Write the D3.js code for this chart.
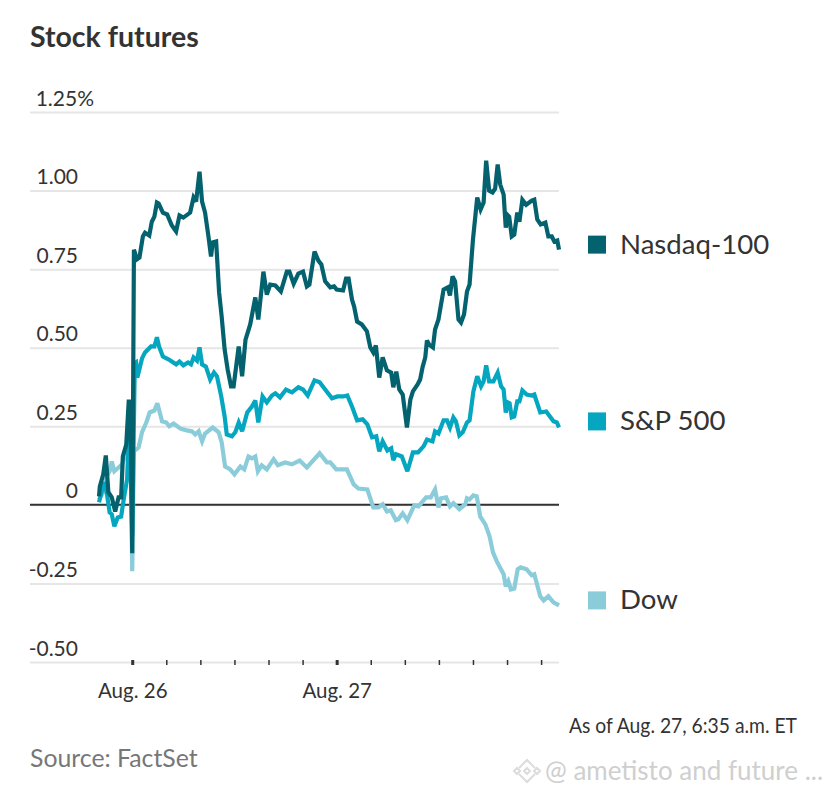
<!DOCTYPE html>
<html>
<head>
<meta charset="utf-8">
<script src="https://cdn.jsdelivr.net/npm/d3@7"></script>
<style>
  html, body { margin: 0; padding: 0; background: #fff; }
  svg { display: block; }
  text { font-family: Lato, "Open Sans", sans-serif; }
</style>
</head>
<body>
<svg id="chart" width="829" height="797"></svg>
<script>
// [hours since the Aug. 26 tick, % change]
var nasdaq = [[-3.9,.027],[-3.8,.059],[-3.4,.097],[-3.1,.157],[-2.8,.040],[-2.4,.024],[-2.0,-.021],[-1.6,.024],[-1.3,.024],[-1.1,.154],[-.7,.192],[-.4,.335],[-.15,.199],[0,-.154],[.2,.812],[.55,.781],[.85,.787],[1.25,.854],[1.5,.866],[2.0,.857],[2.3,.901],[2.6,.917],[2.9,.962],[3.1,.959],[3.6,.930],[4.1,.924],[4.65,.889],[5.15,.870],[5.55,.921],[6.0,.914],[6.8,.930],[7.2,.978],[7.5,.965],[7.9,1.060],[8.2,.965],[8.55,.930],[8.95,.854],[9.25,.790],[9.45,.835],[9.85,.838],[10.2,.676],[10.5,.599],[10.85,.494],[11.2,.431],[11.6,.377],[11.9,.377],[12.2,.440],[12.5,.504],[12.9,.409],[13.3,.526],[13.85,.574],[14.45,.660],[14.8,.590],[15.4,.742],[15.8,.669],[16.2,.701],[16.8,.698],[17.45,.679],[18.15,.742],[18.45,.742],[18.95,.704],[19.5,.736],[20.05,.742],[20.5,.695],[20.8,.701],[21.4,.806],[21.85,.777],[22.2,.765],[22.65,.711],[23.25,.692],[23.7,.695],[24.0,.685],[24.75,.682],[25.1,.720],[25.4,.720],[25.8,.653],[26.05,.631],[26.4,.583],[26.95,.574],[27.55,.552],[27.95,.501],[28.3,.485],[28.6,.507],[29.0,.405],[29.4,.469],[29.9,.428],[30.4,.421],[30.65,.374],[31.0,.424],[31.35,.367],[31.75,.351],[32.25,.246],[32.65,.335],[32.95,.361],[33.5,.383],[33.8,.399],[34.1,.440],[34.4,.469],[34.6,.523],[34.85,.510],[35.3,.501],[35.55,.558],[35.95,.590],[36.55,.685],[37.05,.692],[37.3,.666],[37.6,.727],[37.9,.711],[38.3,.590],[38.6,.580],[38.95,.606],[39.3,.679],[39.6,.701],[40.0,.844],[40.5,.978],[40.9,.940],[41.25,.962],[41.55,1.095],[41.9,1.000],[42.3,.994],[42.6,1.006],[42.9,1.083],[43.2,1.019],[43.6,.987],[43.85,.882],[44.1,.921],[44.25,.917],[44.55,.854],[44.85,.860],[45.2,.930],[45.45,.901],[45.8,.971],[46.25,.955],[46.9,.968],[47.2,.971],[47.55,.908],[47.95,.892],[48.5,.898],[48.85,.854],[49.25,.854],[49.55,.838],[49.9,.841],[50.1,.812]];

var sp500 = [[-3.9,.008],[-3.3,.072],[-3.0,.040],[-2.65,-.024],[-2.4,-.030],[-2.1,-.068],[-1.7,-.040],[-1.3,-.037],[-1.0,.017],[-.6,.081],[-.3,.281],[-.15,.10],[0,-.10],[.3,.45],[.45,.453],[.6,.405],[1.15,.466],[1.5,.485],[2.2,.504],[2.6,.504],[2.9,.533],[3.15,.504],[3.6,.472],[4.25,.463],[5.15,.447],[5.55,.456],[6.0,.444],[6.55,.453],[6.9,.447],[7.2,.469],[7.6,.459],[7.9,.501],[8.2,.447],[8.65,.440],[9.15,.399],[9.6,.421],[9.95,.409],[10.45,.345],[10.85,.281],[11.1,.224],[11.7,.218],[12.1,.231],[12.5,.262],[12.9,.234],[13.5,.294],[14.05,.313],[14.45,.332],[14.8,.262],[15.3,.345],[15.8,.326],[16.4,.348],[16.8,.355],[17.35,.342],[18.05,.367],[18.75,.358],[19.5,.374],[20.05,.367],[20.6,.348],[21.4,.396],[22.0,.390],[22.65,.367],[23.45,.339],[24.1,.345],[24.8,.345],[25.25,.348],[25.8,.313],[26.4,.269],[27.05,.272],[27.6,.256],[28.15,.215],[28.65,.218],[29.0,.170],[29.4,.202],[29.95,.173],[30.4,.180],[30.65,.142],[30.95,.161],[31.65,.154],[32.3,.107],[32.95,.167],[33.55,.167],[34.2,.186],[34.6,.208],[35.25,.202],[35.55,.234],[35.95,.227],[36.55,.269],[36.95,.269],[37.3,.246],[37.7,.278],[38.0,.266],[38.4,.221],[38.8,.231],[39.3,.262],[39.6,.269],[40.05,.361],[40.5,.409],[40.95,.377],[41.25,.393],[41.55,.444],[41.9,.393],[42.4,.393],[42.9,.421],[43.3,.377],[43.6,.367],[43.85,.294],[44.1,.326],[44.3,.323],[44.55,.278],[44.85,.281],[45.2,.329],[45.45,.329],[45.8,.364],[46.3,.351],[46.9,.348],[47.2,.351],[47.9,.294],[48.6,.297],[49.45,.266],[49.85,.262],[50.1,.246]];

var dow = [[-3.9,.017],[-3.4,.040],[-3.0,.091],[-2.65,.107],[-2.4,.138],[-2.1,.107],[-1.6,.119],[-1.2,.129],[-.6,.176],[-.2,.2],[0,-.211],[.2,.176],[.45,.176],[.75,.183],[1.15,.231],[1.65,.262],[2.05,.294],[2.6,.300],[2.95,.323],[3.5,.266],[4.0,.262],[4.35,.250],[4.85,.259],[5.65,.243],[6.4,.237],[7.0,.234],[7.4,.224],[7.8,.234],[8.2,.202],[8.55,.227],[9.45,.246],[10.15,.231],[10.5,.199],[10.9,.122],[11.5,.113],[12.0,.097],[12.7,.122],[13.15,.113],[13.65,.154],[14.05,.148],[14.45,.154],[14.75,.107],[15.2,.126],[15.8,.113],[16.6,.145],[17.1,.126],[17.95,.135],[18.75,.129],[19.65,.141],[20.5,.119],[22.0,.164],[22.85,.135],[23.25,.135],[23.95,.113],[25.2,.113],[26.0,.065],[26.55,.052],[27.6,.049],[28.3,-.008],[28.9,-.008],[29.4,.002],[29.9,-.021],[30.35,-.017],[30.95,-.049],[31.25,-.046],[31.75,-.027],[32.3,-.049],[33.1,-.002],[33.6,-.005],[34.5,.024],[35.05,.024],[35.55,.049],[35.95,-.008],[36.25,.021],[36.85,.024],[37.3,-.005],[37.7,.005],[38.4,-.014],[39.1,.002],[39.3,.021],[39.6,.017],[40.05,.030],[40.45,.027],[40.85,-.037],[41.45,-.062],[41.95,-.100],[42.35,-.151],[42.8,-.180],[43.6,-.221],[43.85,-.259],[44.15,-.243],[44.45,-.269],[44.85,-.266],[45.25,-.205],[45.6,-.199],[46.3,-.205],[46.9,-.224],[47.2,-.221],[47.9,-.291],[48.3,-.304],[48.85,-.291],[49.45,-.310],[50.1,-.320]];

var seriesNames = ["Dow", "S&P 500", "Nasdaq-100"];
var seriesColors = ["#8accd9", "#05a6bf", "#04626f"];
var seriesLegendValues = [-0.304, 0.2655, 0.828];

var yTicks = [-0.5, -0.25, 0, 0.25, 0.5, 0.75, 1, 1.25];
var yLabels = ["-0.50", "-0.25", "0", "0.25", "0.50", "0.75", "1.00", "1.25%"];
var xTicks = [0, 4, 8, 12, 16, 20, 24, 28, 32, 36, 40, 44, 48];
var xLabels = {0: "Aug. 26", 24: "Aug. 27"};

var svg = d3.select("#chart");

var x = d3.scaleLinear().domain([-3.9, 50.1]).range([99, 559]);
var y = d3.scaleLinear().domain([-0.5, 1.25]).range([662, 112]);

// gridlines + y labels
var yAxis = d3.axisLeft(y)
    .tickValues(yTicks)
    .tickSize(0)
    .tickPadding(0)
    .tickFormat(function (d, i) { return yLabels[i]; });

var yg = svg.append("g").call(yAxis);
yg.select(".domain").remove();
yg.selectAll("text")
    .attr("x", 78)
    .attr("y", -7)
    .attr("dy", 0)
    .attr("text-anchor", "end")
    .style("font-family", "Lato, sans-serif")
    .style("font-size", "21px")
    .style("fill", "#333");
// the % hangs out to the right of the number column
yg.selectAll("text").filter(function (d) { return d == 1.25; }).attr("x", 94);
yg.selectAll("line")
    .attr("x1", 30)
    .attr("x2", 559)
    .attr("stroke", "#e6e6e6")
    .attr("stroke-width", 2);

// x axis
var xAxis = d3.axisBottom(x)
    .tickValues(xTicks)
    .tickSize(0)
    .tickPadding(0)
    .tickFormat(function (d) { return xLabels[d] || ""; });

var xg = svg.append("g").attr("transform", "translate(0," + y(-0.5) + ")").call(xAxis);
xg.select(".domain").remove();
xg.selectAll("line")
    .attr("y1", -2)
    .attr("y2", 3)
    .attr("stroke", "#333")
    .attr("stroke-width", function (d) { return xLabels[d] ? 3 : 1.5; });
xg.selectAll("text")
    .attr("y", 36)
    .attr("dy", 0)
    .style("font-family", "Lato, sans-serif")
    .style("font-size", "20.5px")
    .style("fill", "#333");

// zero line
svg.append("line")
    .attr("x1", 30)
    .attr("x2", 559)
    .attr("y1", y(0))
    .attr("y2", y(0))
    .attr("stroke", "#333")
    .attr("stroke-width", 2);

var line = d3.line()
    .x(function (d) { return x(d[0]); })
    .y(function (d) { return y(d[1]); });

[dow, sp500, nasdaq].forEach(function (s, i) {
    svg.append("path")
        .attr("d", line(s))
        .attr("fill", "none")
        .attr("stroke", seriesColors[i])
        .attr("stroke-width", 4.2)
        .attr("stroke-linejoin", "miter")
        .attr("stroke-miterlimit", 3);
});

// legend
seriesNames.forEach(function (name, i) {
    var ly = y(seriesLegendValues[i]);
    svg.append("rect")
        .attr("x", 588)
        .attr("y", ly - 9)
        .attr("width", 18)
        .attr("height", 18)
        .attr("fill", seriesColors[i]);
    svg.append("text")
        .attr("x", 620)
        .attr("y", ly + 9)
        .style("font-size", "27.6px")
        .style("fill", "#333")
        .text(name);
});

svg.append("text")
    .attr("x", 30)
    .attr("y", 47)
    .style("font-size", "28.5px")
    .style("font-weight", 700)
    .style("fill", "#333")
    .text("Stock futures");

svg.append("text")
    .attr("x", 569)
    .attr("y", 733)
    .attr("textLength", 228)
    .attr("lengthAdjust", "spacingAndGlyphs")
    .style("font-size", "21px")
    .style("fill", "#333")
    .text("As of Aug. 27, 6:35 a.m. ET");

svg.append("text")
    .attr("x", 30)
    .attr("y", 767)
    .style("font-size", "24.8px")
    .style("fill", "#777")
    .text("Source: FactSet");

// watermark
var wm = svg.append("g").attr("transform", "translate(527,771)")
    .attr("fill", "none").attr("stroke", "#dcdcdc").attr("stroke-width", 2);
wm.append("path").attr("d", "M-8,-3 L0,-11 L8,-3 M-8,3 L0,11 L8,3 M-13,0 L-10,-3 L-7,0 L-10,3 Z M7,0 L10,-3 L13,0 L10,3 Z M-3,0 L0,-3 L3,0 L0,3 Z");

svg.append("text")
    .attr("x", 545)
    .attr("y", 780)
    .style("font-size", "26px")
    .style("fill", "#cfcfcf")
    .text("@ ametisto and future ...");
</script>
</body>
</html>
